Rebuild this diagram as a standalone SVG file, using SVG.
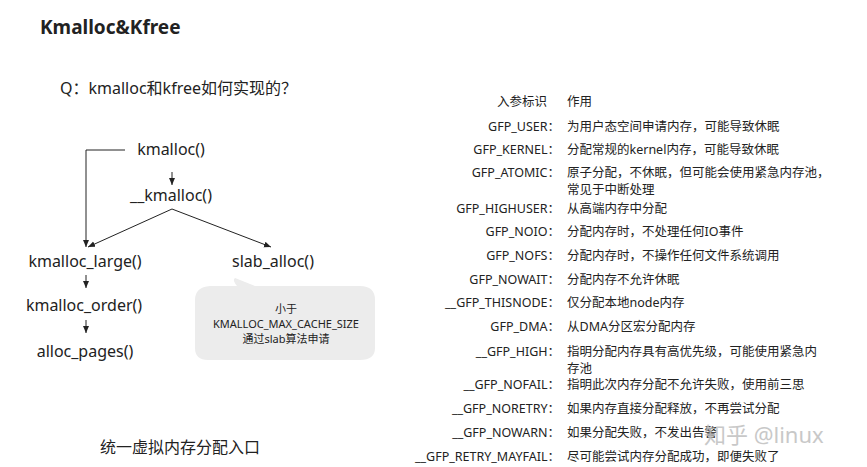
<svg xmlns="http://www.w3.org/2000/svg" width="867" height="467" viewBox="0 0 867 467">
<defs>
<style>
.t{font-family:"Noto Sans","Noto Sans CJK SC",sans-serif;fill:#222}
.n{font-size:16px;text-anchor:middle}
.k{font-size:12.5px;text-anchor:end}
.d{font-size:12.5px}
.c{stroke:#222;stroke-width:1;fill:none}
</style>
<marker id="a" markerWidth="8" markerHeight="8" refX="7" refY="4" orient="auto"><path d="M0,1 L7,4 L0,7z" fill="#222"/></marker>
</defs>
<rect width="867" height="467" fill="#fff"/>
<text x="40" y="34" class="t" style="font-size:19px;font-weight:bold">Kmalloc&amp;Kfree</text>
<text x="60" y="94" class="t" style="font-size:16px">Q：kmalloc和kfree如何实现的？</text>
<g id="connectors">
<path class="c" d="M125,150 H86 V247" marker-end="url(#a)"/>
<path class="c" d="M172,172 V185" marker-end="url(#a)"/>
<path class="c" d="M172,209 L88,247" marker-end="url(#a)"/>
<path class="c" d="M172,209 L271,247" marker-end="url(#a)"/>
<path class="c" d="M86,275 V288" marker-end="url(#a)"/>
<path class="c" d="M86,320 V333" marker-end="url(#a)"/>
</g>
<g id="kmalloc"><text x="171" y="155" class="t n">kmalloc()</text></g>
<g id="__kmalloc"><text x="171" y="201" class="t n">__kmalloc()</text></g>
<g id="kmalloc_large"><text x="85" y="267" class="t n">kmalloc_large()</text></g>
<g id="slab_alloc"><text x="273" y="267" class="t n">slab_alloc()</text></g>
<g id="kmalloc_order"><text x="84" y="311" class="t n">kmalloc_order()</text></g>
<g id="alloc_pages"><text x="85" y="357" class="t n">alloc_pages()</text></g>
<g id="note">
<path d="M195,300 Q195,287 210,286 L237,286 Q232,280 235,278 Q245,282 255,286 H360 Q375,286 375,300 V348 Q375,360 360,360 H208 Q195,360 195,348 Z" fill="#ececec"/>
<text x="286" y="313" class="t" style="font-size:11px;text-anchor:middle">小于</text>
<text x="286" y="328" class="t" style="font-size:11px;text-anchor:middle">KMALLOC_MAX_CACHE_SIZE</text>
<text x="286" y="343" class="t" style="font-size:11px;text-anchor:middle">通过slab算法申请</text>
</g>
<text x="180" y="453" class="t" style="font-size:16px;text-anchor:middle">统一虚拟内存分配入口</text>
<g id="table">
<text x="547" y="106" class="t k">入参标识</text><text x="567" y="106" class="t d">作用</text>
<text x="560" y="131" class="t k">GFP_USER：</text><text x="567" y="131" class="t d">为用户态空间申请内存，可能导致休眠</text>
<text x="560" y="154" class="t k">GFP_KERNEL：</text><text x="567" y="154" class="t d">分配常规的kernel内存，可能导致休眠</text>
<text x="560" y="177" class="t k">GFP_ATOMIC：</text><text x="567" y="177" class="t d">原子分配，不休眠，但可能会使用紧急内存池，</text><text x="567" y="194" class="t d">常见于中断处理</text>
<text x="560" y="213" class="t k">GFP_HIGHUSER：</text><text x="567" y="213" class="t d">从高端内存中分配</text>
<text x="560" y="236" class="t k">GFP_NOIO：</text><text x="567" y="236" class="t d">分配内存时，不处理任何IO事件</text>
<text x="560" y="260" class="t k">GFP_NOFS：</text><text x="567" y="260" class="t d">分配内存时，不操作任何文件系统调用</text>
<text x="560" y="284" class="t k">GFP_NOWAIT：</text><text x="567" y="284" class="t d">分配内存不允许休眠</text>
<text x="560" y="307" class="t k">__GFP_THISNODE：</text><text x="567" y="307" class="t d">仅分配本地node内存</text>
<text x="560" y="331" class="t k">GFP_DMA：</text><text x="567" y="331" class="t d">从DMA分区宏分配内存</text>
<text x="560" y="356" class="t k">__GFP_HIGH：</text><text x="567" y="356" class="t d">指明分配内存具有高优先级，可能使用紧急内</text><text x="567" y="373" class="t d">存池</text>
<text x="560" y="389" class="t k">__GFP_NOFAIL：</text><text x="567" y="389" class="t d">指明此次内存分配不允许失败，使用前三思</text>
<text x="560" y="413" class="t k">__GFP_NORETRY：</text><text x="567" y="413" class="t d">如果内存直接分配释放，不再尝试分配</text>
<text x="560" y="437" class="t k">__GFP_NOWARN：</text><text x="567" y="437" class="t d">如果分配失败，不发出告警</text>
<text x="560" y="461" class="t k">__GFP_RETRY_MAYFAIL：</text><text x="567" y="461" class="t d">尽可能尝试内存分配成功，即便失败了</text>
</g>
<text x="704" y="443" style="font-family:'Noto Sans','Noto Sans CJK SC',sans-serif;font-size:22px;fill:#bbb;opacity:0.8">知乎 @linux</text>
</svg>
